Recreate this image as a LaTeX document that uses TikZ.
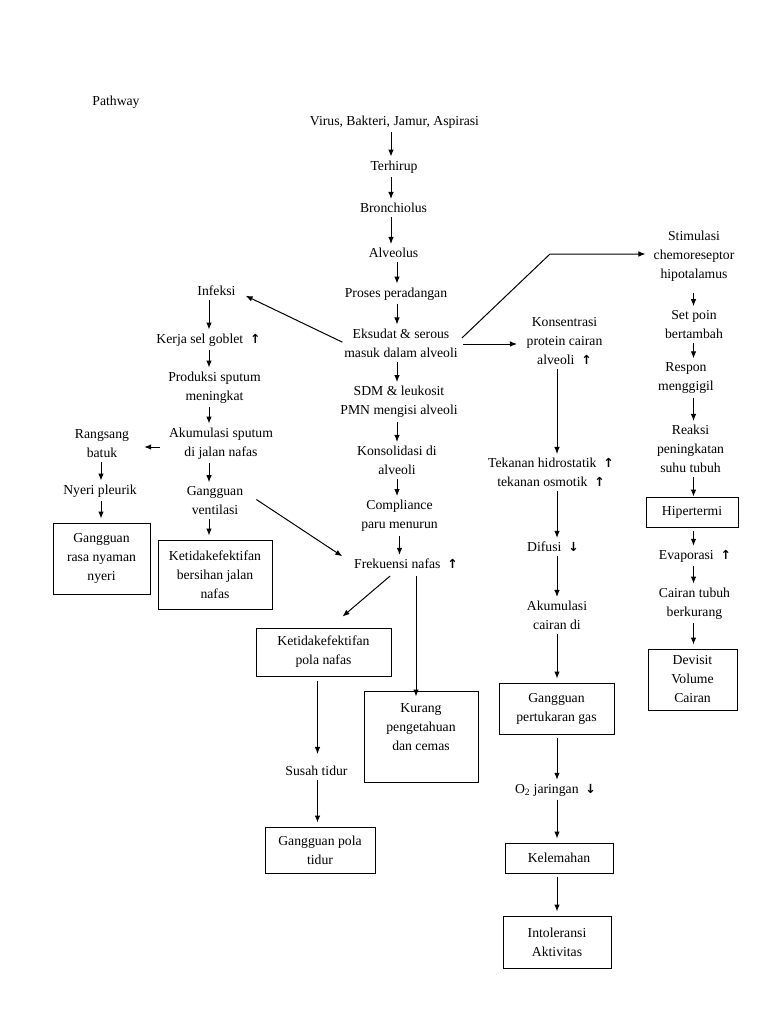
\documentclass[tikz,border=0pt]{standalone}
\usepackage{fontspec}
\setmainfont{Liberation Serif}
\newfontfamily\arrowfont{DejaVu Sans}
\usetikzlibrary{arrows.meta}
\newcommand\myup{\hspace{0.5em}{\arrowfont\bfseries\fontsize{12.5}{12.5}\selectfont ↑}}
\newcommand\mydown{\hspace{0.5em}{\arrowfont\bfseries\fontsize{12.5}{12.5}\selectfont ↓}}
\begin{document}
\begin{tikzpicture}[x=1pt,y=-1pt,
  txt/.style={font=\fontsize{13.7}{19}\selectfont, align=center, inner sep=0pt},
  box/.style={txt, draw, line width=0.9pt},
  arr/.style={-{Latex[length=7pt,width=5.5pt]}, line width=1pt, shorten <=4pt, shorten >=4pt},
  plain/.style={line width=1pt}]
\useasboundingbox (0,0) rectangle (768,1024);
\fill[white] (0,0) rectangle (768,1024);

% column coordinates
\coordinate (colA) at (391,0);
\coordinate (colB) at (397,0);
\coordinate (colL) at (209,0);
\coordinate (colLL) at (101,0);
\coordinate (colS) at (317.5,0);
\coordinate (colM) at (557,0);
\coordinate (colR) at (693.5,0);

\node[txt] (P) at (116,102) {Pathway};

% main column
\node[txt] (v1) at (394.5,122) {Virus, Bakteri, Jamur, Aspirasi};
\node[txt] (v2) at (394,167) {Terhirup};
\node[txt] (v3) at (393.5,208) {Bronchiolus};
\node[txt] (v4) at (393.5,253) {Alveolus};
\node[txt] (v5) at (396,294) {Proses peradangan};
\node[txt] (v6) at (401,343) {Eksudat \& serous\\masuk dalam alveoli};
\node[txt] (v7) at (399,402) {SDM \& leukosit\\PMN mengisi alveoli};
\node[txt] (v8) at (397,460.5) {Konsolidasi di\\alveoli};
\node[txt] (v9) at (399.5,516) {Compliance\\paru menurun};
\node[txt] (v10) at (406,564) {Frekuensi nafas\myup};

% left
\node[txt] (L1) at (216.5,291) {Infeksi};
\node[txt] (L2) at (208.5,340) {Kerja sel goblet\myup};
\node[txt] (L3) at (214.5,387.5) {Produksi sputum\\meningkat};
\node[txt] (L4) at (221,443.5) {Akumulasi sputum\\di jalan nafas};
\node[txt] (L5) at (102,443.5) {Rangsang\\batuk};
\node[txt] (L6) at (100,491) {Nyeri pleurik};
\node[box, minimum width=97pt, minimum height=71pt] (B1) at (101.5,558.5) {Gangguan\\rasa nyaman\\nyeri};
\node[txt] (L7) at (215,500.5) {Gangguan\\ventilasi};
\node[box, minimum width=114pt, minimum height=69pt] (B2) at (215,574.5) {Ketidakefektifan\\bersihan jalan\\nafas};

% lower middle
\node[box, minimum width=135pt, minimum height=48pt] (B3) at (323.5,652) {Ketidakefektifan\\pola nafas};
\node[txt] (S) at (316.5,771) {Susah tidur};
\node[box, minimum width=110pt, minimum height=46pt] (B5) at (320,850) {Gangguan pola\\tidur};
\node[box, minimum width=114pt, minimum height=91pt] (B4) at (421,736.5) {Kurang\\pengetahuan\\dan cemas\\\mbox{}};

% middle right
\node[txt] (K1) at (564.5,341) {Konsentrasi\\protein cairan\\alveoli\myup};
\node[txt] (T) at (551,472.5) {Tekanan hidrostatik\myup\\tekanan osmotik\myup};
\node[txt] (D) at (553,547) {Difusi\mydown};
\node[txt] (A) at (557,615.5) {Akumulasi\\cairan di};
\node[box, minimum width=115pt, minimum height=51pt] (B6) at (556.5,708.5) {Gangguan\\pertukaran gas};
\node[txt] (O) at (555.5,790) {O\textsubscript{2} jaringan\mydown};
\node[box, minimum width=108pt, minimum height=30pt] (B7) at (559,858) {Kelemahan};
\node[box, minimum width=108pt, minimum height=52pt] (B8) at (557,942) {Intoleransi\\Aktivitas};

% right
\node[txt] (R1) at (694,256) {Stimulasi\\chemoreseptor\\hipotalamus};
\node[txt] (R2) at (694,324.5) {Set poin\\bertambah};
\node[txt] (R3) at (686,378) {Respon\\menggigil};
\node[txt] (R4) at (690.5,449) {Reaksi\\peningkatan\\suhu tubuh};
\node[box, minimum width=92pt, minimum height=30pt] (B9) at (692,512) {Hipertermi};
\node[txt] (E) at (695,556) {Evaporasi\myup};
\node[txt] (C) at (694.5,603.5) {Cairan tubuh\\berkurang};
\node[box, minimum width=89pt, minimum height=61pt] (B10) at (692.5,679.5) {Devisit\\Volume\\Cairan};

% main column arrows
\draw[arr] (v1.south -| colA) -- (v2.north -| colA);
\draw[arr] (v2.south -| colA) -- (v3.north -| colA);
\draw[arr] (v3.south -| colA) -- (v4.north -| colA);
\draw[arr] (v4.south -| colB) -- (v5.north -| colB);
\draw[arr] (v5.south -| colB) -- (v6.north -| colB);
\draw[arr] (v6.south -| colB) -- (v7.north -| colB);
\draw[arr] (v7.south -| colB) -- (v8.north -| colB);
\draw[arr] (v8.south -| colB) -- (v9.north -| colB);
\draw[arr] (v9.south -| v9) -- (v10.north -| v9);

% left arrows
\draw[arr] (L1.south -| colL) -- (L2.north -| colL);
\draw[arr] (L2.south -| colL) -- (L3.north -| colL);
\draw[arr] (L3.south -| colL) -- (L4.north -| colL);
\draw[arr] (L4.south -| colL) -- (L7.north -| colL);
\draw[arr] (L7.south -| colL) -- (B2.north -| colL);
\draw[arr] (L5.south -| colLL) -- (L6.north -| colLL);
\draw[arr] (L6.south -| colLL) -- (B1.north -| colLL);
\draw[arr, shorten <=9pt, shorten >=15pt] ([shift={(0,3.5)}]L4.west) -- ([shift={(0,3.5)}]L5.east);
\draw[arr, shorten <=2pt, shorten >=11pt] (v6.west) -- (L1.east);
\draw[arr, shorten <=0pt, shorten >=14pt] ([shift={(13,-1)}]L7.east) -- (v10.west);

% frekuensi branches
\draw[arr, shorten <=0pt, shorten >=0pt] ([shift={(-16,7)}]v10.south) -- ([shift={(19,-11)}]B3.north);
\draw[arr, shorten <=0pt, shorten >=1pt] ([shift={(10,7)}]v10.south) -- ([shift={(10,7)}]v10.south |- B4.north);
\draw[arr, shorten <=5pt, shorten >=12pt] (B3.south -| colS) -- (S.north -| colS);
\draw[arr] (S.south -| colS) -- (B5.north -| colS);

% right branches from eksudat
\coordinate (c1) at (550,254);
\draw[arr, shorten <=5pt, shorten >=9.5pt] ([shift={(0,1)}]v6.east) -- ([shift={(0,1)}]v6.east -| K1.west);
\draw[arr, shorten <=0pt, shorten >=8pt] ([shift={(4,-5)}]v6.east) -- (c1) -- (c1 -| R1.west);

% middle right column
\draw[arr] (K1.south -| colM) -- (T.north -| colM);
\draw[arr] (T.south -| colM) -- (D.north -| colM);
\draw[arr] (D.south -| colM) -- (A.north -| colM);
\draw[arr] (A.south -| colM) -- (B6.north -| colM);
\draw[arr] (B6.south -| colM) -- (O.north -| colM);
\draw[arr] (O.south -| colM) -- (B7.north -| colM);
\draw[arr] (B7.south -| colM) -- (B8.north -| colM);

% right column
\draw[arr, shorten <=12pt, shorten >=4pt] (R1.south -| colR) -- (R2.north -| colR);
\draw[arr] (R2.south -| colR) -- (R3.north -| colR);
\draw[arr] (R3.south -| colR) -- (R4.north -| colR);
\draw[arr, shorten >=0pt] (R4.south -| colR) -- (B9.north -| colR);
\draw[arr] (B9.south -| colR) -- (E.north -| colR);
\draw[arr] (E.south -| colR) -- (C.north -| colR);
\draw[arr] (C.south -| colR) -- (B10.north -| colR);
\end{tikzpicture}
\end{document}
